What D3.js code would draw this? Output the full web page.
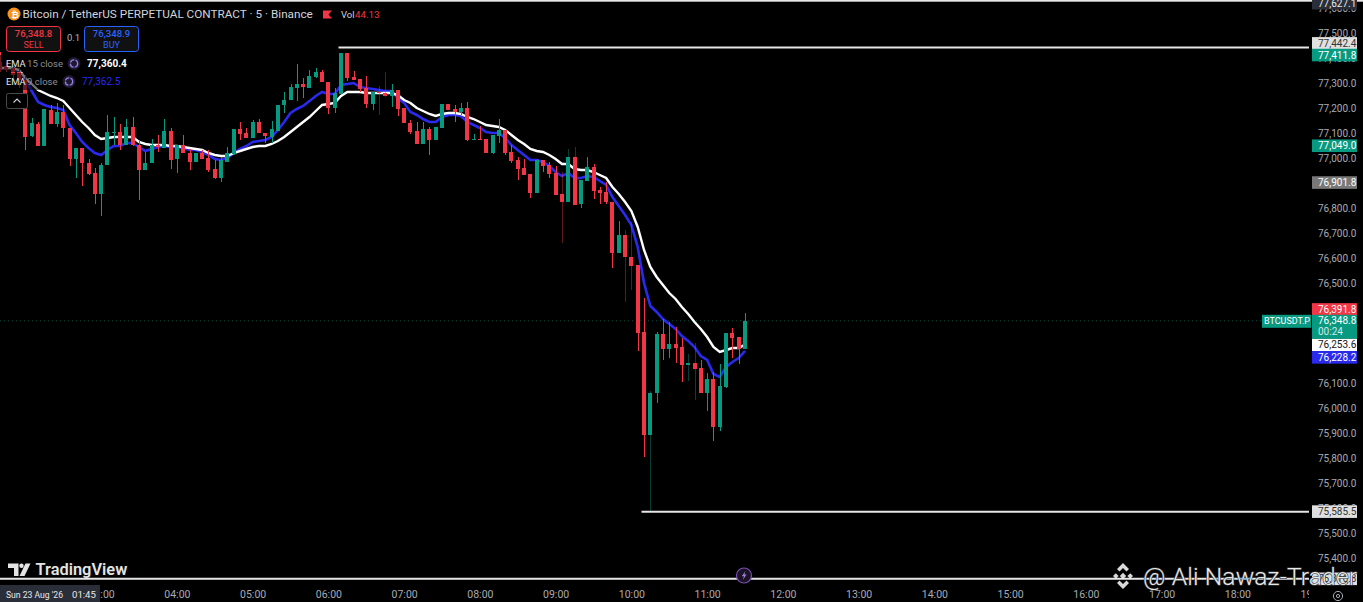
<!DOCTYPE html>
<html><head><meta charset="utf-8">
<script src="https://cdnjs.cloudflare.com/ajax/libs/d3/7.8.5/d3.min.js"></script>
<style>html,body{margin:0;padding:0;background:#000;overflow:hidden}svg{display:block}text{font-family:Roboto,sans-serif}</style>
</head><body><svg id="c" width="1363" height="602"></svg>
<script>
// 5-minute bars; first bar opens at 01:40
const firstBarMinute = 100;
const opens = [77384,77368,77360,77344,77312,77088,77136,77048,77192,77136,77184,77120,76996,77040,76980,76940,76856,76972,77100,77104,77052,77124,77052,76952,76980,77052,77040,77108,76996,77052,77020,76984,77020,77000,76956,76920,76984,77016,77116,77100,77080,77144,77100,77084,77108,77212,77232,77280,77296,77280,77324,77344,77304,77200,77256,77420,77324,77316,77280,77216,77264,77260,77248,77272,77200,77140,77108,77056,77116,77072,77120,77216,77196,77184,77200,77072,77078,77076,77020,77088,77112,77024,76992,76960,76936,76860,76992,76972,76940,76856,76824,77004,76816,76908,76964,76872,76864,76824,76620,76692,76604,76572,76304,75892,76060,76296,76236,76256,76244,76172,76180,76160,76060,76116,75924,76084,76300,76284,76236];
const highs = [77424,77384,77368,77360,77332,77160,77144,77196,77212,77220,77212,77120,77040,77040,76996,76960,76980,77172,77164,77136,77156,77164,77072,77024,77076,77092,77156,77120,77052,77092,77036,77020,77032,77032,76992,77004,77044,77116,77144,77120,77152,77156,77100,77148,77212,77264,77296,77376,77320,77352,77360,77352,77304,77280,77420,77420,77348,77316,77328,77264,77288,77344,77296,77272,77200,77152,77144,77144,77124,77124,77216,77216,77212,77220,77224,77096,77128,77076,77092,77156,77112,77052,77004,76996,76936,76996,76992,76984,76968,76944,77036,77044,76912,77004,76976,76884,76904,76824,76748,76712,76744,76572,76440,76068,76304,76356,76344,76324,76280,76216,76260,76192,76140,76144,76176,76300,76320,76284,76380];
const lows = [77344,77344,77320,77280,77032,77084,77048,77048,77136,77124,77084,76968,76920,76888,76932,76816,76768,76972,77052,77032,77052,77048,76832,76952,76980,77024,77040,76956,76940,77020,76952,76984,76996,76944,76916,76904,76984,77012,77072,77080,77080,77100,77060,77060,77108,77180,77232,77228,77240,77280,77320,77304,77176,77180,77256,77308,77312,77264,77200,77192,77172,77244,77204,77168,77140,77096,77056,77056,77012,77072,77120,77192,77144,77172,77068,77072,77072,77020,77016,77060,77012,76980,76912,76932,76840,76860,76944,76920,76852,76660,76824,76812,76800,76908,76836,76816,76816,76560,76620,76424,76472,76228,75804,75585.5,76020,76192,76200,76180,76104,76108,76032,76060,75988,75868,75908,76080,76200,76176,76236];
const closes = [77352,77356,77332,77312,77084,77140,77048,77196,77136,77184,77120,76996,77040,76980,76936,76856,76972,77104,77104,77052,77124,77052,76952,76980,77052,77044,77108,76992,77052,77020,76984,77020,76996,76952,76920,76992,77020,77116,77096,77080,77144,77100,77088,77116,77212,77232,77284,77296,77284,77328,77344,77304,77200,77260,77420,77320,77312,77276,77216,77264,77260,77248,77272,77196,77140,77104,77056,77116,77072,77124,77216,77192,77184,77200,77072,77078,77072,77020,77092,77112,77020,76988,76956,76932,76860,76992,76968,76936,76852,76824,77004,76812,76912,76964,76868,76860,76824,76620,76692,76604,76568,76300,75892,76060,76296,76236,76256,76240,76172,76180,76156,76060,76116,75924,76088,76300,76280,76236,76348.8];
const ema15 = [77360,77360,77360,77352,77320,77296,77272,77260,77248,77240,77228,77200,77172,77144,77120,77092,77076,77080,77084,77084,77084,77084,77064,77056,77052,77052,77052,77048,77048,77044,77040,77036,77032,77020,77012,77008,77008,77020,77028,77036,77044,77048,77048,77056,77068,77084,77104,77124,77144,77164,77188,77212,77216,77220,77248,77264,77264,77264,77260,77260,77260,77260,77260,77252,77232,77220,77200,77188,77176,77168,77176,77180,77180,77176,77164,77156,77144,77132,77128,77124,77112,77092,77072,77056,77036,77028,77024,77012,76996,76976,76976,76956,76952,76952,76944,76932,76920,76884,76856,76824,76788,76724,76632,76564,76524,76492,76460,76436,76404,76376,76344,76316,76284,76244,76224,76232,76240,76240,76253.6];
const ema9 = [77360,77360,77360,77344,77312,77268,77224,77212,77204,77200,77192,77132,77100,77064,77040,77020,77012,77032,77048,77048,77060,77060,77044,77028,77036,77044,77048,77044,77044,77040,77032,77032,77024,77012,76996,76992,77000,77020,77036,77048,77064,77068,77072,77084,77112,77144,77180,77196,77208,77228,77248,77264,77256,77256,77292,77296,77300,77284,77280,77276,77272,77268,77268,77240,77220,77184,77172,77156,77144,77144,77164,77172,77172,77168,77144,77132,77120,77104,77100,77100,77080,77052,77032,77012,76992,76992,76984,76968,76944,76928,76940,76920,76920,76928,76924,76908,76892,76844,76808,76772,76732,76644,76500,76408,76384,76356,76336,76316,76288,76268,76244,76208,76192,76136,76124,76164,76184,76200,76228.2];
const dimWickBars = [60,61,89,90,91,99,100,103,109,110];
const priceTicks = [77600,77500,77400,77300,77200,77100,77000,76900,76800,76700,76600,76500,76400,76300,76200,76100,76000,75900,75800,75700,75600,75500,75400];
const hourTicks = [3,4,5,6,7,8,9,10,11,12,13,14,15,16,17,18,19];
const levelPrices = [77442.4,75585.5,75316.8];
const levelStartMinute = [368,608,0];
const lastPrice = 76348.8;
const tagValues = [77627.1,77442.4,77411.8,77049.0,76901.8,76391.8,76253.6,76228.2,75585.5,75316.8];
const tagKinds = ["dark","light","green","green","gray","red","white","blue","light","light"];
const tagNudge = [2,-4,0,0,0,-0.6,0.2,6.4,0,0];

const GREEN="#089981",RED="#f23645",BLUE="#2a2aee";
const svg=d3.select("#c");
const x=d3.scaleLinear().domain([120,720]).range([25.4,782.9]);
const y=d3.scaleLinear().domain([77300,75400]).range([83,558]);
const bars=closes.map((c,k)=>({k,m:firstBarMinute+5*k,o:opens[k],h:highs[k],l:lows[k],c}));
const defs=svg.append("defs");
defs.append("clipPath").attr("id","pane").append("rect").attr("width",1309).attr("height",602);

// top strip
svg.append("rect").attr("width",1363).attr("height",1.7).attr("fill","#e8e8e8");

const pane=svg.append("g").attr("clip-path","url(#pane)");
// last price dotted line
pane.append("line").attr("x1",0).attr("x2",1262).attr("y1",y(lastPrice)).attr("y2",y(lastPrice))
  .attr("stroke",GREEN).attr("stroke-opacity",.5).attr("stroke-dasharray","1 3");
// EMAs
const line=s=>d3.line().x((d,i)=>x(bars[i].m)).y(d=>y(d)).curve(d3.curveLinear)(s);
pane.append("path").attr("d",line(ema9)).attr("fill","none").attr("stroke",BLUE).attr("stroke-width",2.6);
pane.append("path").attr("d",line(ema15)).attr("fill","none").attr("stroke","#fff").attr("stroke-width",2.4);
// candles
const col=d=>d.c>=d.o?GREEN:RED;
pane.append("g").selectAll("line").data(bars).join("line")
  .attr("x1",d=>Math.round(x(d.m))+.5).attr("x2",d=>Math.round(x(d.m))+.5)
  .attr("y1",d=>y(d.h)).attr("y2",d=>y(d.l))
  .attr("stroke",col).attr("stroke-opacity",d=>dimWickBars.includes(d.k)?.4:1).attr("shape-rendering","crispEdges");
pane.append("g").selectAll("rect").data(bars).join("rect")
  .attr("x",d=>Math.round(x(d.m))-1.5).attr("width",4)
  .attr("y",d=>y(Math.max(d.o,d.c))).attr("height",d=>Math.max(1,y(Math.min(d.o,d.c))-y(Math.max(d.o,d.c))))
  .attr("transform","translate(-0.5,0)")
  .attr("fill",col).attr("shape-rendering","crispEdges");
// horizontal levels
pane.append("g").selectAll("line").data(levelPrices).join("line")
  .attr("x1",(d,i)=>x(levelStartMinute[i])).attr("x2",1310)
  .attr("y1",d=>y(d)).attr("y2",d=>y(d)).attr("stroke","#e6e6e6").attr("stroke-width",2);

// price axis
const yAxis=d3.axisRight(y).tickValues(priceTicks).tickSize(0).tickPadding(0).tickFormat(d3.format(",.1f"));
const yg=svg.append("g").attr("transform","translate(1318,0)").call(yAxis);
yg.select(".domain").remove();
yg.selectAll("text").attr("fill","#a8abb3").attr("font-size",10);

// time axis
const xAxis=d3.axisBottom(x).tickValues(hourTicks.map(h=>h*60)).tickSize(0).tickPadding(0)
  .tickFormat(m=>String(m/60).padStart(2,"0")+":00");
const xg=svg.append("g").attr("clip-path","url(#pane)").append("g").attr("transform","translate(0,590.5)").call(xAxis);
xg.select(".domain").remove();
xg.selectAll("text").attr("fill","#a8abb3").attr("font-size",10.5);

// price tags
const TAG={dark:["#2a2e39","#e8e8e8"],light:["#e0e0e0","#333"],green:[GREEN,"#fff"],gray:["#787878","#fff"],red:[RED,"#fff"],white:["#fff","#111"],blue:[BLUE,"#fff"]};
const tg=svg.append("g").selectAll("g").data(tagValues).join("g")
  .attr("transform",(d,i)=>`translate(1312,${y(d)+tagNudge[i]})`);
tg.append("rect").attr("y",-6.3).attr("width",45).attr("height",12.6).attr("fill",(d,i)=>TAG[tagKinds[i]][0]);
tg.append("text").attr("x",6).attr("dy",3.6).attr("font-size",10).attr("fill",(d,i)=>TAG[tagKinds[i]][1]).text(d3.format(",.1f"));
// last price tag
const lp=svg.append("g").attr("transform",`translate(1312,${y(lastPrice)})`);
lp.append("rect").attr("y",-6).attr("width",45).attr("height",24).attr("fill",GREEN);
lp.append("text").attr("x",6).attr("dy",3.6).attr("font-size",10).attr("fill","#fff").text(d3.format(",.1f")(lastPrice));
lp.append("text").attr("x",6).attr("dy",14.6).attr("font-size",10).attr("fill","#cfe9e4").text("00:24");
lp.append("rect").attr("x",-50).attr("y",-6).attr("width",49).attr("height",13).attr("fill",GREEN);
lp.append("text").attr("x",-48).attr("dy",3.6).attr("font-size",9).attr("fill","#fff").text("BTCUSDT.P");

// legend shade
svg.append("rect").attr("x",0).attr("y",55).attr("width",130).attr("height",17).attr("fill","#000").attr("opacity",.55);
svg.append("rect").attr("x",0).attr("y",73).attr("width",122).attr("height",17).attr("fill","#000").attr("opacity",.55);
// header
const T=(s,px,py,size,fill,w)=>svg.append("text").attr("x",px).attr("y",py).attr("font-size",size).attr("fill",fill).attr("font-weight",w||400).text(s);
svg.append("circle").attr("cx",14).attr("cy",14).attr("r",6.5).attr("fill","#f7931a");
T("₿",11.2,17.5,9.5,"#fff",700);
T("Bitcoin / TetherUS PERPETUAL CONTRACT · 5 · Binance",22.5,18,11.74,"#d1d4dc");
svg.append("path").attr("d","M323 10.5H332L328.5 14.5L332 18.5H323Z").attr("fill",RED);
T("Vol",341,18,9.5,"#d1d4dc");
T("44.13",355,18,9.8,RED);
const btn=(bx,c,a,b)=>{svg.append("rect").attr("x",bx+.5).attr("y",26.5).attr("width",54).attr("height",25).attr("rx",3).attr("fill","#111").attr("stroke",c);
 svg.append("text").attr("x",bx+27.5).attr("y",36.5).attr("text-anchor","middle").attr("font-size",9.6).attr("font-weight",500).attr("fill",c).text(a);
 svg.append("text").attr("x",bx+27.5).attr("y",47.5).attr("text-anchor","middle").attr("font-size",9).attr("fill",c).text(b);};
btn(6,RED,"76,348.8","SELL");
btn(84,"#2962ff","76,348.9","BUY");
T("0.1",67,41,9.5,"#b2b5be");
T("EMA",6,67,9.4,"#e8e8e8"); T("15 close",27,67,9.6,"#8b8e96");
T("77,360.4",87,67,10,"#fff",700);
T("EMA",6,85,9.4,"#e8e8e8"); T("9 close",27,85,9.6,"#8b8e96");
T("77,362.5",82,85,10,"#2a2af0");
[[74,63.5],[69,81.5]].forEach(([cx,cy])=>{
 svg.append("circle").attr("cx",cx).attr("cy",cy).attr("r",6.5).attr("fill","#1c1a2e");
 svg.append("circle").attr("cx",cx).attr("cy",cy).attr("r",3.7).attr("fill","none").attr("stroke","#9c7ce8").attr("stroke-width",1.3).attr("stroke-dasharray","5 1.2");
});
svg.append("rect").attr("x",6.5).attr("y",93.5).attr("width",21).attr("height",15).attr("rx",2).attr("fill","#000").attr("stroke","#4a4a4a");
svg.append("path").attr("d","M13.5 102.5L17 99L20.5 102.5").attr("fill","none").attr("stroke","#d1d4dc").attr("stroke-width",1.1);

// TradingView logo
const logo=svg.append("g").attr("fill","#e4e4e4");
logo.append("path").attr("d","M8 563.5H18.5V576H14V568H8Z");
logo.append("path").attr("d","M30.5 563.5L24.5 576H19.5L25.5 563.5Z");
logo.append("circle").attr("cx",21.5).attr("cy",565.7).attr("r",2.2);
T("TradingView",35.5,574.5,16.4,"#e4e4e4",600).attr("font-family","Inter");

// date box
svg.append("rect").attr("y",585).attr("width",100).attr("height",17).attr("fill","#2a2e39");
T("Sun 23 Aug '26",6,598,9.6,"#e8e8e8").attr("textLength",57).attr("lengthAdjust","spacingAndGlyphs");
T("01:45",72,598,9.6,"#e8e8e8");

// lightning badge
svg.append("circle").attr("cx",744).attr("cy",575.5).attr("r",7.5).attr("fill","#1a1225").attr("stroke","#7a4fb0").attr("stroke-width",1.2);
svg.append("path").attr("d","M745.5 571L741.8 576.3H744L742.8 580L746.6 574.6H744.4Z").attr("fill","#a77be0");

// gear
svg.append("circle").attr("cx",1338).attr("cy",596).attr("r",4.6).attr("fill","none").attr("stroke","#a8abb3");
svg.append("circle").attr("cx",1338).attr("cy",596).attr("r",1.6).attr("fill","none").attr("stroke","#a8abb3");

// watermark
const wm=svg.append("g").attr("fill","#fff").attr("fill-opacity",.85);
wm.append("path").attr("d","M1123 563L1129 569L1126.5 571.5L1123 568L1119.5 571.5L1117 569Z");
wm.append("path").attr("d","M1123 589L1117 583L1119.5 580.5L1123 584L1126.5 580.5L1129 583Z");
wm.append("path").attr("d","M1123 572.8L1126.2 576L1123 579.2L1119.8 576Z");
wm.append("path").attr("d","M1113 576L1115.8 573.2L1118.6 576L1115.8 578.8Z");
wm.append("path").attr("d","M1127.4 576L1130.2 573.2L1133 576L1130.2 578.8Z");
svg.append("text").attr("x",1143).attr("y",585).attr("font-size",24.5).attr("font-weight",300).attr("fill","#e8e8e8")
  .attr("stroke","#333").attr("stroke-width",1.3).attr("paint-order","stroke").attr("textLength",214).text("@ Ali Nawaz-Trader");
</script></body></html>
